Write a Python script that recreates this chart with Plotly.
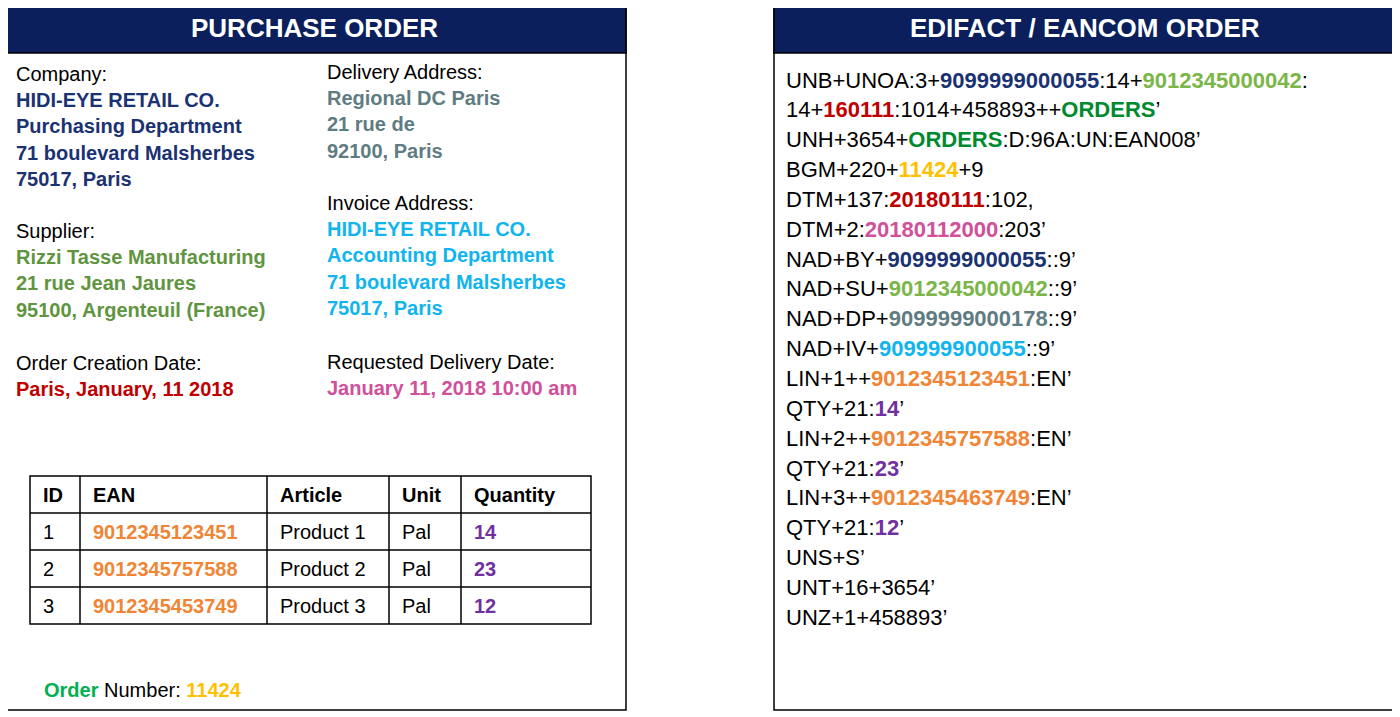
import plotly.graph_objects as go

NAVY = "#0b1f5c"
C = {
    "k": "#000000", "navy": "#1b3272", "gray": "#5f7c82", "cyan": "#10b4ef",
    "olive": "#5f9540", "red": "#c00000", "pink": "#d0509a", "orange": "#f08536",
    "purple": "#7030a0", "yellow": "#ffc000", "green": "#008a2e", "lgreen": "#7ab648",
    "ogreen": "#00b050",
}

title_left = "PURCHASE ORDER"
title_right = "EDIFACT / EANCOM ORDER"

company = ["HIDI-EYE RETAIL CO.", "Purchasing Department", "71 boulevard Malsherbes", "75017, Paris"]
supplier = ["Rizzi Tasse Manufacturing", "21 rue Jean Jaures", "95100, Argenteuil (France)"]
creation_date = ["Paris, January, 11 2018"]
delivery = ["Regional DC Paris", "21 rue de", "92100, Paris"]
invoice = ["HIDI-EYE RETAIL CO.", "Accounting Department", "71 boulevard Malsherbes", "75017, Paris"]
requested_date = ["January 11, 2018 10:00 am"]

table_header = ["ID", "EAN", "Article", "Unit", "Quantity"]
ids = ["1", "2", "3"]
eans = ["9012345123451", "9012345757588", "9012345453749"]
articles = ["Product 1", "Product 2", "Product 3"]
units = ["Pal", "Pal", "Pal"]
quantities = ["14", "23", "12"]
order_number = "11424"

edi_lines = [
    [("UNB+UNOA:3+", "k"), ("9099999000055", "navy"), (":14+", "k"), ("9012345000042", "lgreen"), (":", "k")],
    [("14+", "k"), ("160111", "red"), (":1014+458893++", "k"), ("ORDERS", "green"), ("’", "k")],
    [("UNH+3654+", "k"), ("ORDERS", "green"), (":D:96A:UN:EAN008’", "k")],
    [("BGM+220+", "k"), ("11424", "yellow"), ("+9", "k")],
    [("DTM+137:", "k"), ("20180111", "red"), (":102,", "k")],
    [("DTM+2:", "k"), ("20180112000", "pink"), (":203’", "k")],
    [("NAD+BY+", "k"), ("9099999000055", "navy"), ("::9’", "k")],
    [("NAD+SU+", "k"), ("9012345000042", "lgreen"), ("::9’", "k")],
    [("NAD+DP+", "k"), ("9099999000178", "gray"), ("::9’", "k")],
    [("NAD+IV+", "k"), ("909999900055", "cyan"), ("::9’", "k")],
    [("LIN+1++", "k"), ("9012345123451", "orange"), (":EN’", "k")],
    [("QTY+21:", "k"), ("14", "purple"), ("’", "k")],
    [("LIN+2++", "k"), ("9012345757588", "orange"), (":EN’", "k")],
    [("QTY+21:", "k"), ("23", "purple"), ("’", "k")],
    [("LIN+3++", "k"), ("9012345463749", "orange"), (":EN’", "k")],
    [("QTY+21:", "k"), ("12", "purple"), ("’", "k")],
    [("UNS+S’", "k")],
    [("UNT+16+3654’", "k")],
    [("UNZ+1+458893’", "k")],
]

FONT = "Liberation Sans, Arial"
fig = go.Figure()
shapes = []
ann = []


def txt(x, y, s, size=20, color="#000", anchor="left"):
    ann.append(dict(x=x, y=y, text=s, showarrow=False, xanchor=anchor, yanchor="middle",
                    font=dict(family=FONT, size=size, color=color), xref="x", yref="y"))


def bold(s, col):
    return "<b><span style='color:%s'>%s</span></b>" % (C[col], s)


# boxes
for x0, x1, t in [(2, 626, title_left), (774, 1396, title_right)]:
    shapes.append(dict(type="rect", x0=x0, x1=x1, y0=2, y1=710, line=dict(color="#000", width=1.5), fillcolor="white"))
    shapes.append(dict(type="rect", x0=x0, x1=x1, y0=2, y1=53, line=dict(color="#000", width=1.5), fillcolor=NAVY))
    txt((x0 + x1) / 2, 28, "<b>%s</b>" % t, size=26, color="white", anchor="center")

step = 26.2


def block(x, y, label, lines, col):
    txt(x, y, label)
    for i, l in enumerate(lines):
        txt(x, y + step * (i + 1), bold(l, col))


block(14, 74, "Company:", company, "navy")
block(14, 231, "Supplier:", supplier, "olive")
block(14, 363, "Order Creation Date:", creation_date, "red")
block(325, 72, "Delivery Address:", delivery, "gray")
block(325, 203, "Invoice Address:", invoice, "cyan")
block(325, 362, "Requested Delivery Date:", requested_date, "pink")

# table
cols = [30, 80, 267, 389, 461, 591]
rows = [476, 513, 550, 587, 624]
shapes.append(dict(type="rect", x0=cols[0], x1=cols[-1], y0=rows[0], y1=rows[-1], line=dict(color="#000", width=1.5)))
for c in cols[1:-1]:
    shapes.append(dict(type="line", x0=c, x1=c, y0=rows[0], y1=rows[-1], line=dict(color="#000", width=1.5)))
for r in rows[1:-1]:
    shapes.append(dict(type="line", x0=cols[0], x1=cols[-1], y0=r, y1=r, line=dict(color="#000", width=1.5)))
for j, h in enumerate(table_header):
    txt(cols[j] + 11, (rows[0] + rows[1]) / 2, "<b>%s</b>" % h)
for i in range(len(ids)):
    yc = (rows[i + 1] + rows[i + 2]) / 2
    cells = [ids[i], bold(eans[i], "orange"), articles[i], units[i], bold(quantities[i], "purple")]
    for j, s in enumerate(cells):
        txt(cols[j] + 11, yc, s)

txt(42, 690, bold("Order", "ogreen") + " Number: " + bold(order_number, "yellow"))

# EDIFACT text
for i, segs in enumerate(edi_lines):
    s = "".join(t if c == "k" else bold(t, c) for t, c in segs)
    txt(784, 80 + 29.85 * i, s, size=22)

# page body adds an 8px margin, so the figure covers screen pixels 8..1400 / 8..717
fig.update_layout(
    width=1392, height=709, margin=dict(l=0, r=0, t=0, b=0),
    paper_bgcolor="white", plot_bgcolor="white", showlegend=False,
    xaxis=dict(range=[8, 1400], visible=False, fixedrange=True),
    yaxis=dict(range=[717, 8], visible=False, fixedrange=True),
    shapes=shapes, annotations=ann,
)
fig.write_html("out.html")
